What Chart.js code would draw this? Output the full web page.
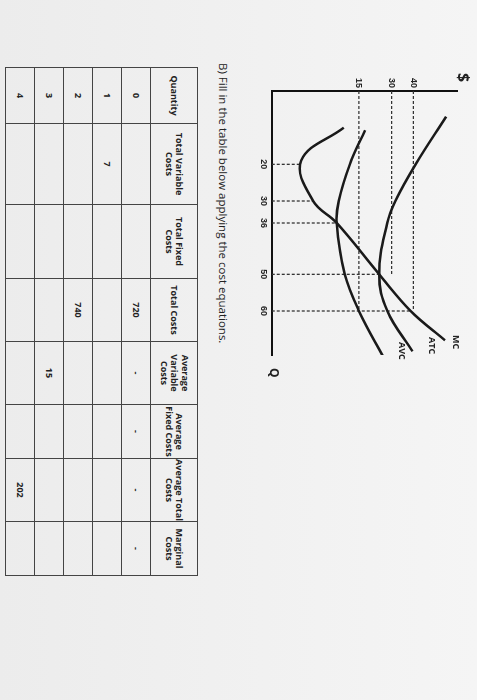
<!DOCTYPE html>
<html>
<head>
<meta charset="utf-8">
<script src="https://cdn.jsdelivr.net/npm/chart.js@4"></script>
<style>
  body { margin: 0; background: #e9e9e9; width: 477px; height: 700px; overflow: hidden; }
  #page {
    position: absolute; left: 0; top: 0; width: 700px; height: 477px;
    transform: translate(477px, 0) rotate(90deg); transform-origin: 0 0;
    background: linear-gradient(#f5f5f5, #ececec);
    font-family: "Open Sans", sans-serif; color: #222;
  }
  #chart-box { position: absolute; left: 75px; top: 10px; width: 300px; height: 212px; }
  .lbl { position: absolute; font-size: 9px; font-weight: bold; }
  #intro { position: absolute; left: 63px; top: 246px; font-size: 11.5px; white-space: nowrap; }
  table { position: absolute; left: 67px; top: 279px; border-collapse: collapse; font-size: 9px; font-weight: bold; }
  td, th { border: 1px solid #444; text-align: center; padding: 0; line-height: 1.15; }
  th { height: 46px; }
  td { height: 28px; }
</style>
</head>
<body>
<div id="page">
  <div id="chart-box"><canvas id="cost-chart"></canvas></div>
  <div class="lbl" style="left:73px;top:2px;font-size:16px;">$</div>
  <div class="lbl" style="left:368px;top:194px;font-size:12px;">Q</div>
  <div class="lbl" style="left:335px;top:14px;">MC</div>
  <div class="lbl" style="left:337px;top:38px;">ATC</div>
  <div class="lbl" style="left:342px;top:68px;">AVC</div>
  <div id="intro">B) Fill in the table below applying the cost equations.</div>
  <table id="cost-table"><thead><tr></tr></thead><tbody></tbody></table>
</div>
<script>
const qTicks = [20, 30, 36, 50, 60];
const dollarTicks = [15, 30, 40];

const mcQ = [10, 19, 30, 36, 50, 60, 68];
const mcCost = [8, -11.5, -6, 4.8, 24.3, 38.7, 54.5];
const avcQ = [10.7, 20, 30, 36, 50, 60, 73];
const avcCost = [17.8, 10.8, 5.7, 4.8, 8.5, 15, 26.6];
const atcQ = [7, 20, 30, 36, 50, 60, 71];
const atcCost = [55, 41, 31.7, 28, 24.3, 28, 39.6];

const dropQ = [20, 30, 36, 50, 60];
const dropTop = [-11.5, -6, 4.8, 24.3, 38.7];
const levelCost = [15, 30, 40];
const levelEndQ = [60, 50, 60];

const headers = ['Quantity', 'Total Variable Costs', 'Total Fixed Costs', 'Total Costs',
  'Average Variable Costs', 'Average Fixed Costs', 'Average Total Costs', 'Marginal Costs'];
const colWidths = [55, 80, 73, 62, 62, 53, 62, 53];
const tableRows = [
  ['0', '', '', '720', '-', '-', '-', '-'],
  ['1', '7', '', '', '', '', '', ''],
  ['2', '', '', '740', '', '', '', ''],
  ['3', '', '', '', '15', '', '', ''],
  ['4', '', '', '', '', '', '202', '']
];

function curve(qs, costs) {
  return {
    data: qs.map((q, i) => ({ x: q, y: costs[i] })),
    borderColor: '#1a1a1a', borderWidth: 2.5, pointRadius: 0, tension: 0.4, fill: false
  };
}

function dashed(points) {
  return {
    data: points, borderColor: '#333', borderWidth: 1.3, borderDash: [3, 2],
    pointRadius: 0, tension: 0, fill: false
  };
}

const datasets = [curve(mcQ, mcCost), curve(atcQ, atcCost), curve(avcQ, avcCost)];
dropQ.forEach((q, i) => datasets.push(dashed([{ x: q, y: -25 }, { x: q, y: dropTop[i] }])));
levelCost.forEach((c, i) => datasets.push(dashed([{ x: 0, y: c }, { x: levelEndQ[i], y: c }])));

new Chart(document.getElementById('cost-chart'), {
  type: 'line',
  data: { datasets },
  options: {
    responsive: true, maintainAspectRatio: false, animation: false,
    layout: { padding: { top: 10, right: 20 } },
    plugins: { legend: { display: false }, tooltip: { enabled: false } },
    scales: {
      x: {
        type: 'linear', min: 0, max: 72,
        afterBuildTicks: (axis) => { axis.ticks = qTicks.map((v) => ({ value: v })); },
        ticks: { color: '#222', font: { size: 9, weight: 'bold' }, maxRotation: 0 },
        grid: { display: false, drawTicks: false },
        border: { color: '#111', width: 2 }
      },
      y: {
        type: 'linear', min: -25, max: 60,
        afterBuildTicks: (axis) => { axis.ticks = dollarTicks.map((v) => ({ value: v })); },
        ticks: { color: '#222', font: { size: 9, weight: 'bold' } },
        grid: { display: false, drawTicks: false },
        border: { color: '#111', width: 2 }
      }
    }
  }
});

const headRow = document.querySelector('#cost-table thead tr');
headers.forEach((h, i) => {
  const th = document.createElement('th');
  th.textContent = h;
  th.style.width = colWidths[i] + 'px';
  headRow.appendChild(th);
});
const tbody = document.querySelector('#cost-table tbody');
tableRows.forEach((row) => {
  const tr = document.createElement('tr');
  row.forEach((v) => {
    const td = document.createElement('td');
    td.textContent = v;
    tr.appendChild(td);
  });
  tbody.appendChild(tr);
});
</script>
</body>
</html>
